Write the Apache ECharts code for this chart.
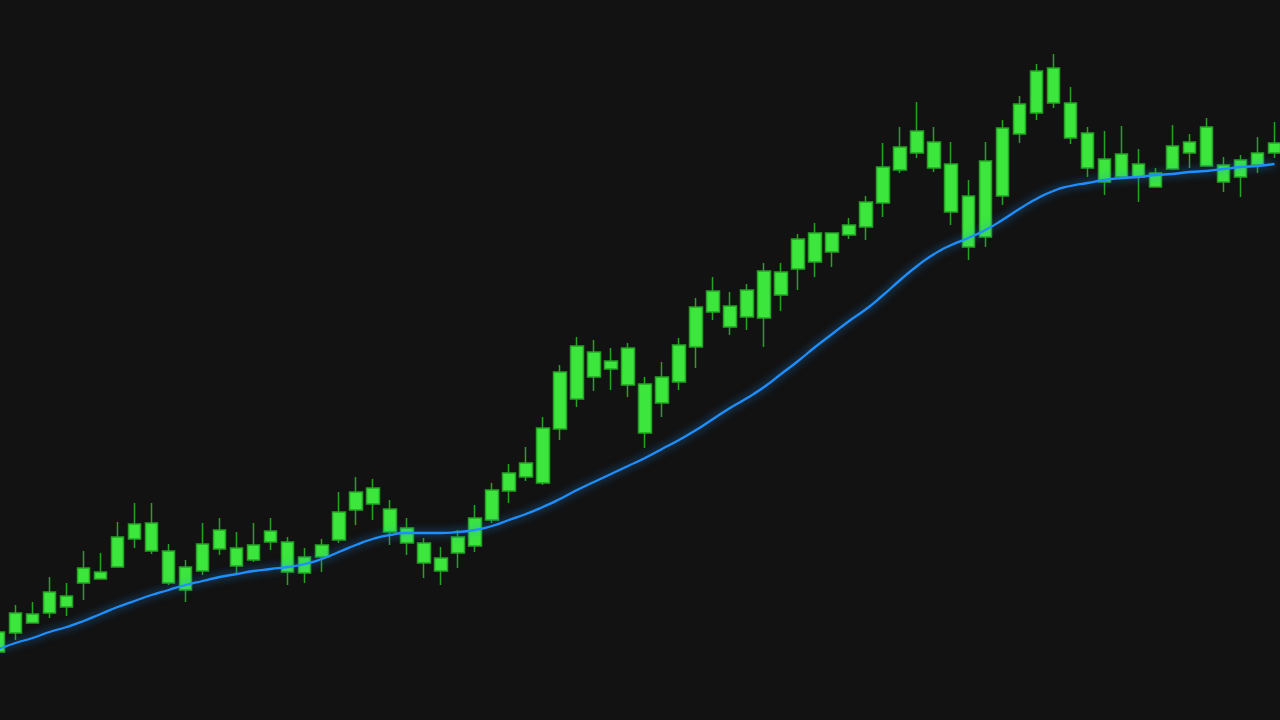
<!DOCTYPE html>
<html>
<head>
<meta charset="utf-8">
<script src="https://cdn.jsdelivr.net/npm/echarts@6/dist/echarts.min.js"></script>
<style>
html,body{margin:0;padding:0;background:#121212;overflow:hidden;width:1280px;height:720px;position:relative;}
#chart{position:absolute;left:-10.5px;top:0;width:1293px;height:720px;}
</style>
</head>
<body>
<div id="chart"></div>
<script>
// candle values (price units)
const opens  = [68,87,97,107,113,137,141,153,181,169,137,130,149,171,154,160,178,148,147,163,180,210,216,188,177,157,149,167,174,200,229,243,237,291,321,343,351,335,287,317,338,373,408,393,403,402,425,451,458,468,485,493,517,550,567,552,508,473,483,524,586,607,617,582,552,538,543,543,533,551,567,554,538,543,555,567];
const closes = [88,107,106,128,124,152,148,183,196,197,169,153,176,190,172,175,189,178,163,175,208,228,232,211,192,177,162,183,202,230,247,257,292,348,374,368,359,372,336,343,375,413,429,414,430,449,448,481,487,487,495,518,553,573,589,578,556,524,559,592,616,649,652,617,587,561,566,556,547,574,578,593,555,560,567,577];
const lows   = [60,80,97,102,104,120,141,153,172,166,135,118,145,165,147,158,170,135,137,148,177,195,200,175,165,142,135,152,168,197,217,239,235,280,313,329,330,323,272,303,330,352,400,385,390,373,409,430,443,453,481,480,503,547,562,548,495,460,473,515,577,600,612,576,543,525,543,518,533,550,552,554,528,523,547,562];
const highs  = [95,115,118,143,137,169,167,198,217,217,176,160,197,202,188,197,202,183,172,181,228,243,241,220,202,182,173,190,215,237,256,273,303,355,383,380,372,377,343,358,382,422,443,428,436,457,457,486,497,487,502,524,577,593,618,593,578,540,578,600,624,656,666,633,593,589,594,571,552,595,586,602,563,565,583,598];
const maLine = [71,77,82,88,93,99,106,113,119,125,130,135,139,143,146,149,151,153,156,161,168,175,181,185,187,187,187,188,190,194,200,206,213,221,230,238,246,254,262,271,280,290,301,312,322,333,346,359,373,386,399,411,425,440,454,466,475,482,490,500,511,521,529,534,537,540,542,543,545,546,548,549,551,553,554,556];
const categories = opens.map((_, i) => 'D' + (i + 1));

const candleData = opens.map((o, i) => [o, closes[i], lows[i], highs[i]]);

const chart = echarts.init(document.getElementById('chart'));
chart.setOption({
  animation: false,
  backgroundColor: '#121212',
  grid: { left: 0, right: 0, top: 0, bottom: 0 },
  xAxis: {
    type: 'category',
    data: categories,
    boundaryGap: true,
    show: false
  },
  yAxis: {
    type: 'value',
    min: 0,
    max: 720,
    show: false,
    splitLine: { show: false }
  },
  series: [
    {
      type: 'candlestick',
      data: candleData,
      barWidth: 13,
      z: 2,
      itemStyle: {
        color: '#3ce63c',
        color0: '#3ce63c',
        borderColor: '#24a324',
        borderColor0: '#24a324',
        borderWidth: 1.5
      }
    },
    {
      type: 'line',
      data: maLine,
      smooth: 0.6,
      symbol: 'none',
      z: 5,
      lineStyle: {
        color: '#1f8fff',
        width: 2.3,
        shadowColor: 'rgba(30,150,255,0.8)',
        shadowBlur: 8
      }
    }
  ]
});
</script>
</body>
</html>
